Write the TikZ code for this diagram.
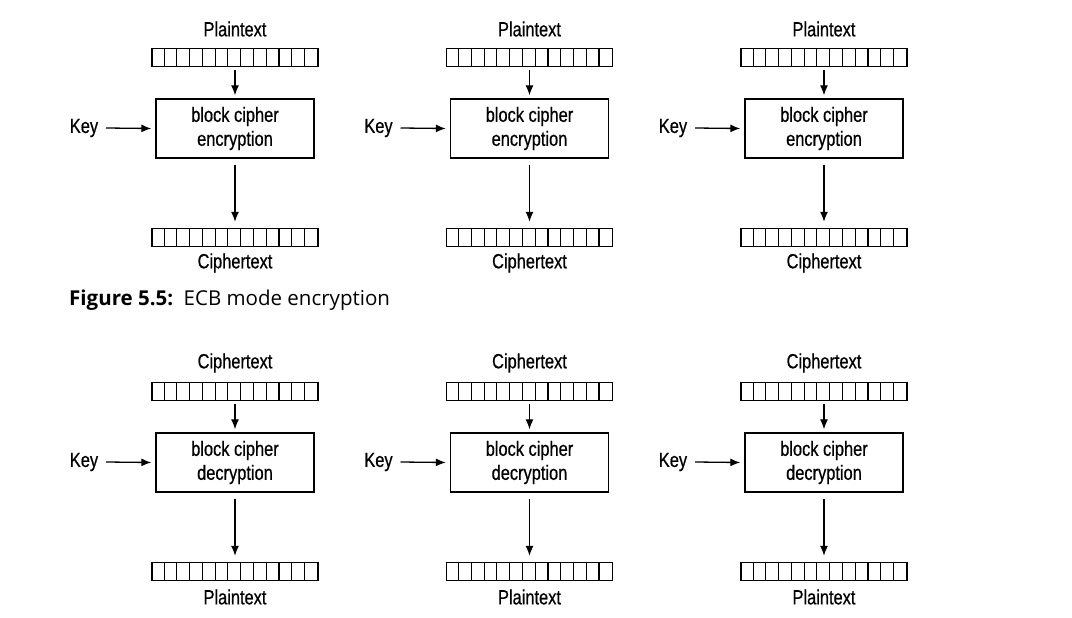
\documentclass[tikz,border=0pt]{standalone}
\usepackage{fontspec}
\setmainfont{Liberation Sans}
\newfontfamily\narrowf[FakeStretch=0.8,FakeBold=0.6]{Liberation Sans}
\newfontfamily\capf{Open Sans}
\usetikzlibrary{calc,arrows.meta}
\begin{document}
\begin{tikzpicture}[x=1pt,y=-1pt,
  lbl/.style={font=\narrowf\fontsize{20.5}{22}\selectfont, inner sep=0pt},
  cbox/.style={draw, line width=1.4pt, minimum width=158pt, minimum height=59pt, align=center, font=\narrowf\fontsize{20.5}{24}\selectfont, inner sep=0pt},
  arr/.style={-{Latex[length=10pt,width=8pt]}, line width=1.3pt}]
\useasboundingbox (0,0) rectangle (1072,618);
\newcommand\myblock[3]{%
  \node[draw,line width=1.4pt,minimum width=166pt,minimum height=18pt,inner sep=0pt] (#1) at (#2,#3) {};
  \foreach \k in {1,...,12}{\draw[line width=1.1pt] ($(#1.north west)+(\k*166/13,0)$) -- ($(#1.south west)+(\k*166/13,0)$);}
}
\foreach \c [count=\i] in {235,529.5,824}{
 \foreach \dy/\word/\top/\bot in {0/encryption/Plaintext/Ciphertext,334/decryption/Ciphertext/Plaintext}{
  \node[lbl] (t\i\dy) at (\c,29+\dy) {\top};
  \myblock{a\i\dy}{\c}{57.5+\dy}
  \node[cbox] (b\i\dy) at (\c,128.5+\dy) {block cipher\\\word};
  \myblock{c\i\dy}{\c}{237.5+\dy}
  \node[lbl] (u\i\dy) at (\c,263+\dy) {\bot};
  \node[lbl] (k\i\dy) at (\c-151,128+\dy) {Key};
  \coordinate (ks\i\dy) at (\c-129,128+\dy);
  \draw[arr] (ks\i\dy) -- ($(b\i\dy.west)+(-4,0)$);
  \draw[arr] ($(a\i\dy.south)+(0,3)$) -- ($(b\i\dy.north)+(0,-3)$);
  \draw[arr] ($(b\i\dy.south)+(0,6)$) -- ($(c\i\dy.north)+(0,-6)$);
 }
}
\node[anchor=west,inner sep=0pt,font=\capf\fontsize{20.5}{22}\selectfont] (cap) at (69,300) {\textbf{Figure 5.5:}\, ECB mode encryption};
\end{tikzpicture}
\end{document}
